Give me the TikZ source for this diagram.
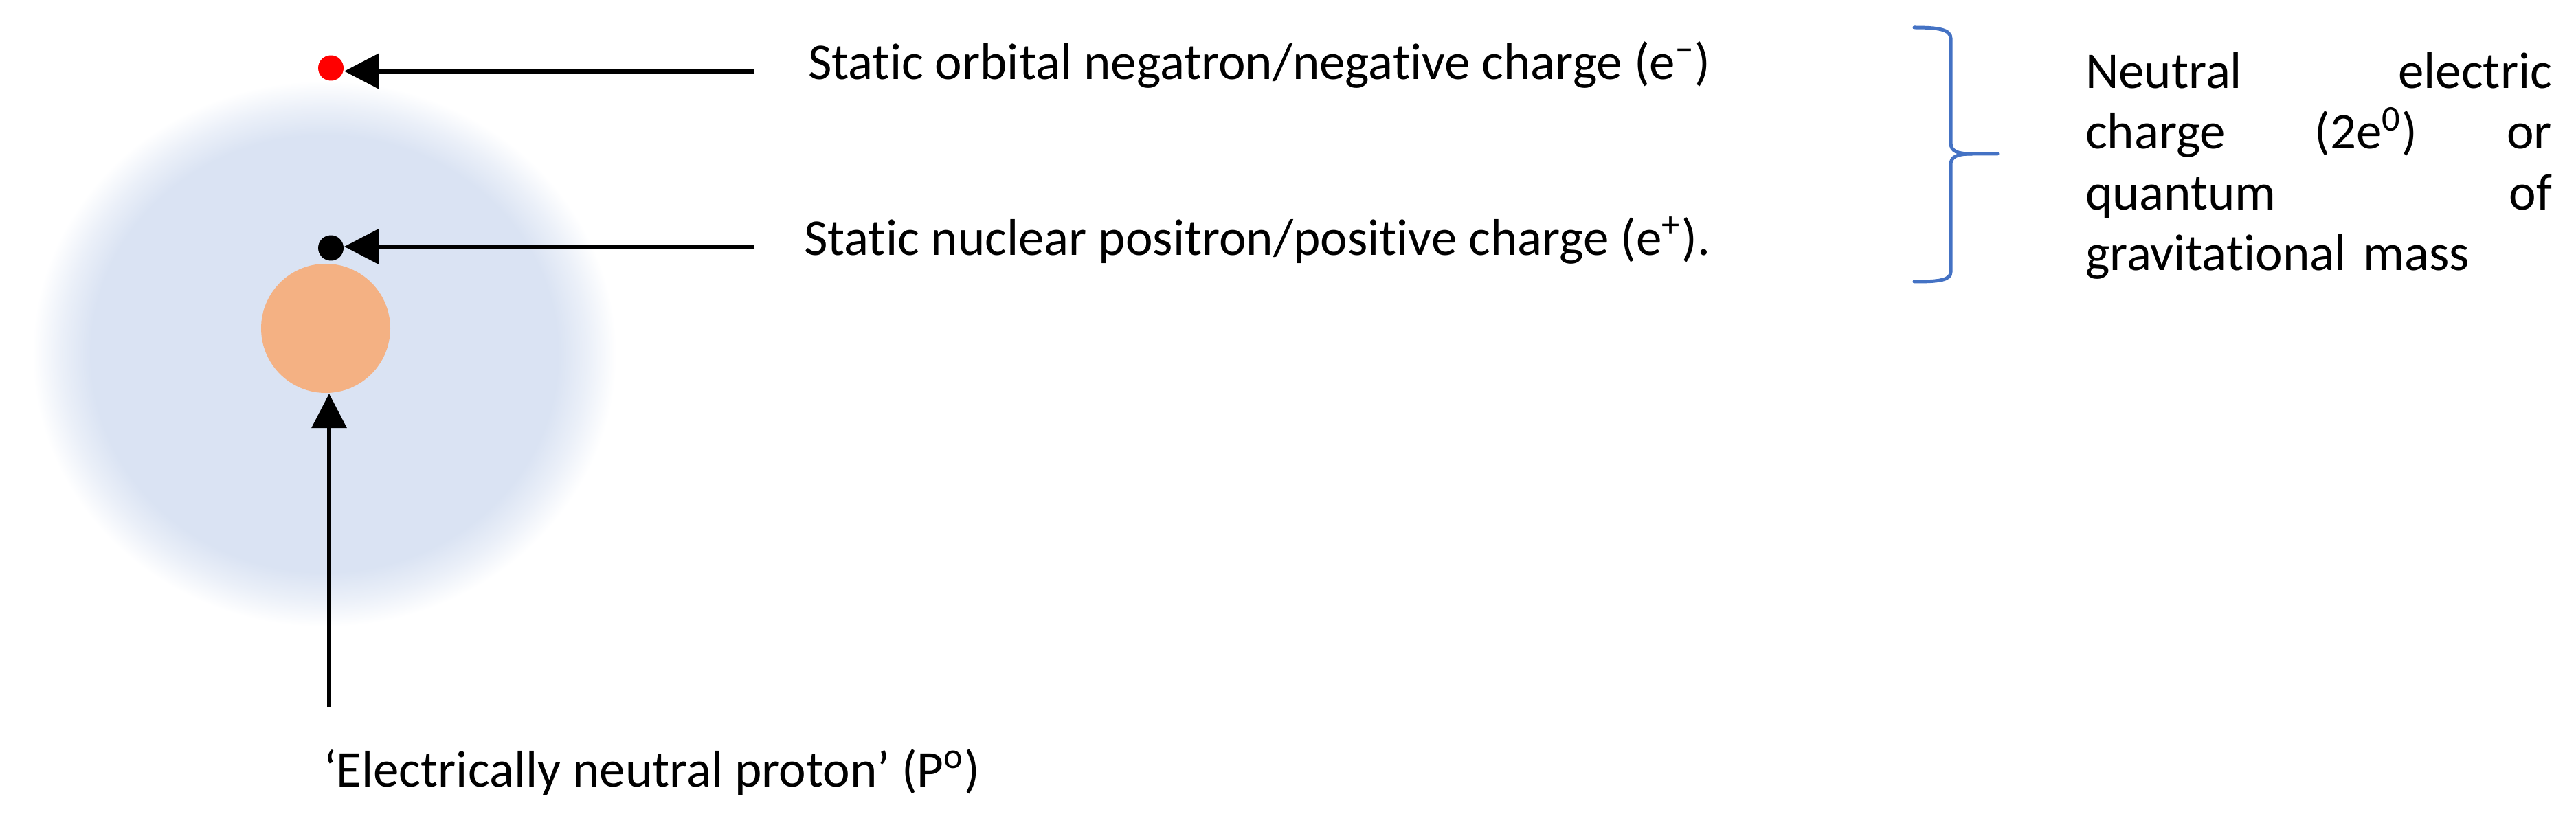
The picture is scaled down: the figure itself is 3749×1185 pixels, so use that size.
\documentclass[tikz,border=0pt]{standalone}
\usepackage{fontspec}
\setmainfont{Carlito}[Ligatures={NoCommon}]
\usetikzlibrary{arrows.meta}
\definecolor{glowc}{HTML}{DAE3F3}
\definecolor{protonc}{HTML}{F4B183}
\definecolor{bracec}{HTML}{4472C4}
\pgfdeclareradialshading{glowshade}{\pgfpoint{0bp}{0bp}}{color(0bp)=(glowc); color(20bp)=(glowc); color(22.5bp)=(glowc!55!white); color(25bp)=(white); color(50bp)=(white)}
\tikzset{
  dot/.style={circle, inner sep=0pt, minimum size=7.4pt, draw=none},
  lbl/.style={inner sep=0pt, font=\fontsize{15pt}{17.6pt}\selectfont},
  arr/.style={line width=1.3pt, -{Triangle[length=10pt,width=10pt]}},
  bracestyle/.style={draw=bracec, line width=1pt, line cap=round}
}
\begin{document}
\begin{tikzpicture}[x=0.2pt, y=-0.2pt]
\useasboundingbox (0,0) rectangle (3749,1185);
% glow
\shade[shading=glowshade] (472,515) ellipse [x radius=85pt, y radius=79.5pt];
% particles
\node[circle, inner sep=0pt, minimum size=37.6pt, fill=protonc] (proton) at (474,478) {};
\node[dot, fill=red] (neg) at (481.5,99) {};
\node[dot, fill=black] (pos) at (481.5,361) {};
% labels
\node[lbl, anchor=base west] (tneg) at (1175,116) {Static orbital negatron/negative charge (e\textsuperscript{−})};
\node[lbl, anchor=base west] (tpos) at (1169,371) {Static nuclear positron/positive charge (e\textsuperscript{+}).};
\node[lbl, anchor=base west] (tpro) at (470,1145) {‘Electrically neutral proton’ (P\textsuperscript{o})};
\node[lbl, anchor=base west, text width=135.8pt, align=left] (tneu) at (3034,129) {Neutral\hfill electric\\charge\hfill (2e\textsuperscript{0})\hfill or\\quantum\hfill of\\gravitational mass};
% connectors
\coordinate (sneg) at (1098,103.6);
\coordinate (spos) at (1098,359);
\coordinate (spro) at (479,1029);
\draw[arr] (sneg) -- (neg.east |- sneg);
\draw[arr] (spos) -- (pos.east |- spos);
\draw[arr] (spro) -- (spro |- proton.south);
% brace
\draw[bracestyle] (2786,40) .. controls (2822,40) and (2839,43) .. (2839,56) -- (2839,208)
  .. controls (2839,220) and (2848,224) .. (2870,224) -- (2907,224);
\draw[bracestyle] (2870,224) .. controls (2848,224) and (2839,228) .. (2839,240) -- (2839,396)
  .. controls (2839,408) and (2822,410) .. (2786,410);
\end{tikzpicture}
\end{document}
